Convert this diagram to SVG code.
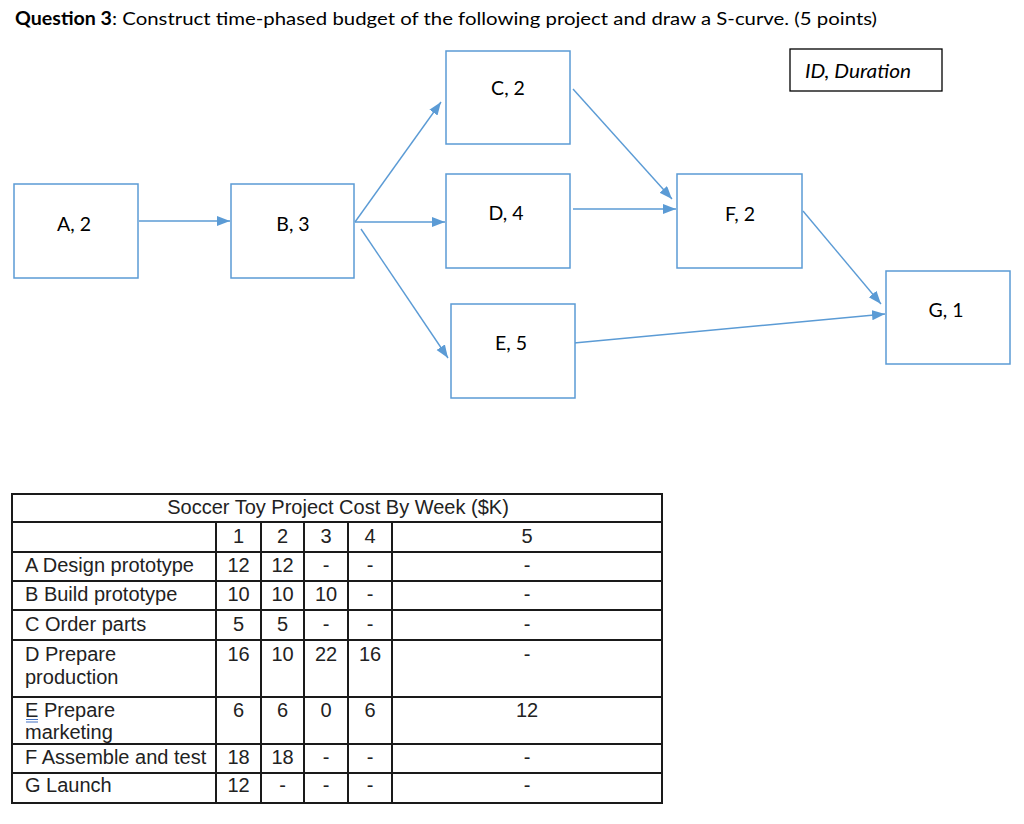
<svg xmlns="http://www.w3.org/2000/svg" width="1024" height="824" viewBox="0 0 1024 824">
<style>
.node rect{fill:#fff;stroke:#5B9BD5;stroke-width:1.5}
.lbl{font-family:Lato,"Open Sans",sans-serif;font-size:19.5px;fill:#000;text-anchor:middle}
.conn line{stroke:#5B9BD5;stroke-width:1.4}
.t{font-family:"Liberation Sans",Arial,sans-serif;font-size:20px;fill:#222}
.c{text-anchor:middle}
.grid line{stroke:#1a1a1a;stroke-width:2}
</style>
<defs>
<marker id="ah" markerUnits="userSpaceOnUse" markerWidth="14" markerHeight="12" refX="13" refY="5" orient="auto">
<path d="M0,0 L13,5 L0,10 Z" fill="#5B9BD5"/>
</marker>
</defs>
<rect width="1024" height="824" fill="#fff"/>
<text x="15" y="25" font-family="Lato,'Open Sans',sans-serif" font-size="18" font-weight="bold" textLength="97" lengthAdjust="spacingAndGlyphs">Question 3</text>
<text x="112" y="25" font-family="Lato,'Open Sans',sans-serif" font-size="18" textLength="765" lengthAdjust="spacingAndGlyphs">: Construct time-phased budget of the following project and draw a S-curve. (5 points)</text>

<g id="legend">
<rect x="790" y="49" width="152" height="42" fill="#fff" stroke="#000" stroke-width="1.3"/>
<text x="805" y="78" font-family="Lato,'Open Sans',sans-serif" font-size="18.5" font-style="italic" textLength="106" lengthAdjust="spacingAndGlyphs">ID, Duration</text>
</g>

<g id="connectors" class="conn">
<line x1="139" y1="221" x2="230" y2="221" marker-end="url(#ah)"/>
<line x1="355" y1="222" x2="441" y2="102" marker-end="url(#ah)"/>
<line x1="355" y1="222" x2="445" y2="222" marker-end="url(#ah)"/>
<line x1="361" y1="229" x2="448" y2="358" marker-end="url(#ah)"/>
<line x1="573" y1="89" x2="672" y2="199" marker-end="url(#ah)"/>
<line x1="573" y1="209" x2="676" y2="209" marker-end="url(#ah)"/>
<line x1="803" y1="211" x2="881" y2="304" marker-end="url(#ah)"/>
<line x1="574" y1="343" x2="885" y2="314" marker-end="url(#ah)"/>
</g>

<g id="nodeA" class="node"><rect x="14" y="184" width="124" height="94"/><text class="lbl" x="74" y="231">A, 2</text></g>
<g id="nodeB" class="node"><rect x="231" y="184" width="123" height="94"/><text class="lbl" x="293" y="231">B, 3</text></g>
<g id="nodeC" class="node"><rect x="446" y="51" width="124" height="93"/><text class="lbl" x="508" y="95">C, 2</text></g>
<g id="nodeD" class="node"><rect x="446" y="174" width="124" height="94"/><text class="lbl" x="506" y="220">D, 4</text></g>
<g id="nodeE" class="node"><rect x="451" y="304" width="124" height="94"/><text class="lbl" x="511" y="350">E, 5</text></g>
<g id="nodeF" class="node"><rect x="677" y="174" width="125" height="94"/><text class="lbl" x="740" y="221">F, 2</text></g>
<g id="nodeG" class="node"><rect x="886" y="271" width="124" height="93"/><text class="lbl" x="946" y="317">G, 1</text></g>

<g id="table">
<g class="grid">
<rect x="12" y="494" width="650" height="309" fill="#fff" stroke="#1a1a1a" stroke-width="2"/>
<line x1="12" y1="522" x2="662" y2="522"/>
<line x1="12" y1="552" x2="662" y2="552"/>
<line x1="12" y1="581" x2="662" y2="581"/>
<line x1="12" y1="610" x2="662" y2="610"/>
<line x1="12" y1="640" x2="662" y2="640"/>
<line x1="12" y1="697" x2="662" y2="697"/>
<line x1="12" y1="744" x2="662" y2="744"/>
<line x1="12" y1="773" x2="662" y2="773"/>
<line x1="216" y1="522" x2="216" y2="803"/>
<line x1="261" y1="522" x2="261" y2="803"/>
<line x1="304" y1="522" x2="304" y2="803"/>
<line x1="348" y1="522" x2="348" y2="803"/>
<line x1="392" y1="522" x2="392" y2="803"/>
</g>
<text class="t c" x="338" y="514">Soccer Toy Project Cost By Week ($K)</text>
<text class="t c" x="238.5" y="543">1</text><text class="t c" x="282.5" y="543">2</text><text class="t c" x="326" y="543">3</text><text class="t c" x="370" y="543">4</text><text class="t c" x="527" y="543">5</text>

<text class="t" x="25" y="572">A Design prototype</text>
<text class="t c" x="238.5" y="572">12</text><text class="t c" x="282.5" y="572">12</text><text class="t c" x="326" y="572">-</text><text class="t c" x="370" y="572">-</text><text class="t c" x="527" y="572">-</text>

<text class="t" x="25" y="601">B Build prototype</text>
<text class="t c" x="238.5" y="601">10</text><text class="t c" x="282.5" y="601">10</text><text class="t c" x="326" y="601">10</text><text class="t c" x="370" y="601">-</text><text class="t c" x="527" y="601">-</text>

<text class="t" x="25" y="631">C Order parts</text>
<text class="t c" x="238.5" y="631">5</text><text class="t c" x="282.5" y="631">5</text><text class="t c" x="326" y="631">-</text><text class="t c" x="370" y="631">-</text><text class="t c" x="527" y="631">-</text>

<text class="t" x="25" y="661">D Prepare</text>
<text class="t" x="25" y="684">production</text>
<text class="t c" x="238.5" y="661">16</text><text class="t c" x="282.5" y="661">10</text><text class="t c" x="326" y="661">22</text><text class="t c" x="370" y="661">16</text><text class="t c" x="527" y="661">-</text>

<text class="t" x="25" y="717">E Prepare</text>
<text class="t" x="25" y="739">marketing</text>
<line x1="26" y1="719.5" x2="38" y2="719.5" stroke="#4472C4" stroke-width="1"/>
<line x1="26" y1="722" x2="38" y2="722" stroke="#4472C4" stroke-width="1"/>
<text class="t c" x="238.5" y="717">6</text><text class="t c" x="282.5" y="717">6</text><text class="t c" x="326" y="717">0</text><text class="t c" x="370" y="717">6</text><text class="t c" x="527" y="717">12</text>

<text class="t" x="25" y="764">F Assemble and test</text>
<text class="t c" x="238.5" y="764">18</text><text class="t c" x="282.5" y="764">18</text><text class="t c" x="326" y="764">-</text><text class="t c" x="370" y="764">-</text><text class="t c" x="527" y="764">-</text>

<text class="t" x="25" y="792">G Launch</text>
<text class="t c" x="238.5" y="792">12</text><text class="t c" x="282.5" y="792">-</text><text class="t c" x="326" y="792">-</text><text class="t c" x="370" y="792">-</text><text class="t c" x="527" y="792">-</text>
</g>
</svg>
